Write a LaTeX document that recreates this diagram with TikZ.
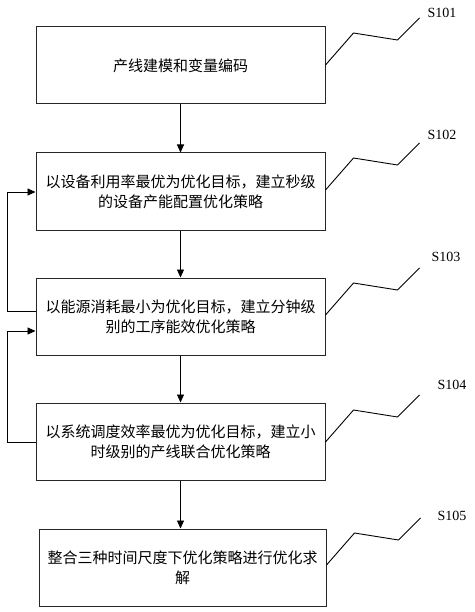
\documentclass[tikz,border=0pt]{standalone}
\usepackage{fontspec}
\newfontfamily\cjk{Noto Sans CJK SC}
\newfontfamily\lbl{Liberation Serif}
\usetikzlibrary{arrows.meta}
\begin{document}
\begin{tikzpicture}[x=1pt,y=-1pt,
  stepbox/.style={draw=black!85,line width=1pt,minimum width=289pt,minimum height=77pt,inner sep=0pt,
    font=\cjk\fontsize{15}{20}\selectfont,align=center},
  arr/.style={line width=0.9pt,-{Triangle[length=8pt,width=7pt]}},
  lead/.style={line width=0.9pt},
  steplbl/.style={font=\lbl\fontsize{14}{16}\selectfont,inner sep=0pt}]
\useasboundingbox (0,0) rectangle (474,612);
\node[stepbox] (b1) at (180.5,65.5) {产线建模和变量编码};
\node[stepbox] (b2) at (180.5,191.5) {以设备利用率最优为优化目标，建立秒级\\的设备产能配置优化策略};
\node[stepbox] (b3) at (180.5,316.5) {以能源消耗最小为优化目标，建立分钟级\\别的工序能效优化策略};
\node[stepbox] (b4) at (180.5,441.5) {以系统调度效率最优为优化目标，建立小\\时级别的产线联合优化策略};
\node[stepbox,minimum width=287pt] (b5) at (182.5,567.5) {整合三种时间尺度下优化策略进行优化求\\解};
\draw[arr] (b1.south) -- (b2.north);
\draw[arr] (b2.south) -- (b3.north);
\draw[arr] (b3.south) -- (b4.north);
\draw[arr] (b4.south-|b1.south) -- (b5.north-|b1.south);
% feedback loops
\coordinate (l1) at (7,311);
\coordinate (l2) at (7,192);
\draw[arr] (b3.west|-l1) -- (l1) -- (l2) -- (b2.west|-l2);
\coordinate (m1) at (7,442);
\coordinate (m2) at (7,331);
\draw[arr] (b4.west|-m1) -- (m1) -- (m2) -- (b3.west|-m2);
% leaders and labels
\foreach \n/\y/\ly/\lx in {1/65/13/442,2/190/135/442,3/315/257/446,4/442/385/452,5/565/516/452}{
  \draw[lead] (b\n.east|-{0,\y}) -- ++(28,-32) -- ++(44,7) -- ++(22,-22);
  \node[steplbl] (s\n) at (\lx,\ly) {S10\n};
}
\end{tikzpicture}
\end{document}
